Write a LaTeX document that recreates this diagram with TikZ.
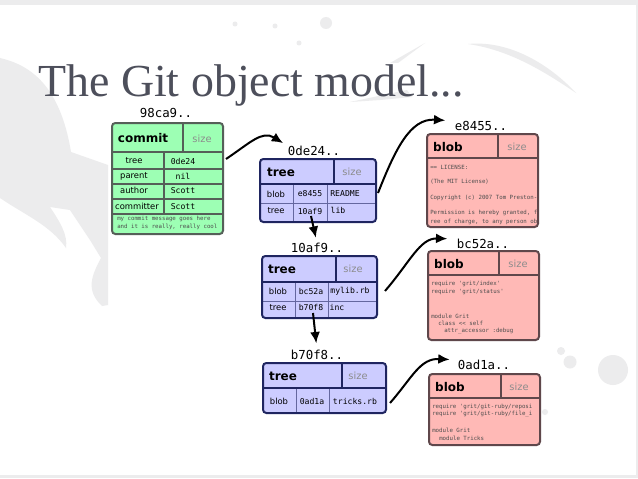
\documentclass[tikz,border=0pt]{standalone}
\usepackage{fontspec}
\setmainfont{Liberation Serif}
\setsansfont{DejaVu Sans}
\setmonofont{DejaVu Sans Mono}
\usetikzlibrary{arrows.meta, fit}
\definecolor{paintgray}{HTML}{ECECED}
\definecolor{titleink}{HTML}{4D4F5B}
\definecolor{commitfill}{HTML}{9DFFB4}
\definecolor{commitline}{HTML}{555F58}
\definecolor{treefill}{HTML}{CCCCFF}
\definecolor{treeline}{HTML}{1F2560}
\definecolor{blobfill}{HTML}{FFB9B6}
\definecolor{blobline}{HTML}{5F474B}

\begin{document}
\begin{tikzpicture}[
        x=0.75pt, y=-0.75pt,
        objbox/.style={rectangle, rounded corners=2.5pt, line width=1.5pt, inner sep=0pt},
        commitbox/.style={objbox, draw=commitline, fill=commitfill},
        treebox/.style={objbox, draw=treeline, fill=treefill},
        blobbox/.style={objbox, draw=blobline, fill=blobfill},
        heavy/.style={line width=1.3pt},
        thin rule/.style={line width=0.6pt, opacity=0.6},
        title/.style={font=\rmfamily\fontsize{34.4}{38}\selectfont, text=titleink, anchor=base west, inner sep=0pt},
        sha/.style={font=\ttfamily\fontsize{9.3}{10}\selectfont, inner sep=0pt},
        kind/.style={font=\sffamily\bfseries\fontsize{9}{10}\selectfont, inner sep=0pt},
        sizelabel/.style={font=\sffamily\fontsize{7.4}{9}\selectfont, text=black!45, inner sep=0pt},
        field/.style={font=\sffamily\fontsize{6.3}{8}\selectfont, inner sep=0pt},
        value/.style={font=\ttfamily\fontsize{6.1}{8}\selectfont, inner sep=0pt},
        contents/.style={font=\ttfamily\fontsize{4.3}{5}\selectfont, text=black!70, anchor=west, inner sep=0pt},
        pointer/.style={-{Latex[length=8.5pt, width=7.5pt]}, line width=1.5pt}
    ]
    \useasboundingbox (0,0) rectangle (638,478);

    % Painted slide background
    \fill[white] (0,0) rectangle (638,478);
    \fill[paintgray] (0,0) rectangle (638,5);
    \fill[paintgray] (0,475) rectangle (638,478);
    \fill[paintgray] (636,0) rectangle (638,478);
    \fill[paintgray] (0,58) .. controls (30,65) and (60,85) .. (71,152) -- (108,165) -- (108,305) -- (102,306)
        .. controls (85,290) and (92,275) .. (101,258) -- (90,240) -- (70,210) -- (50,207)
        .. controls (60,222) and (68,235) .. (66,248) .. controls (50,225) and (25,215) .. (0,198) -- cycle;
    \fill[paintgray] (468,44) .. controls (510,40) and (550,65) .. (576,93) .. controls (545,72) and (510,50) .. cycle;
    \fill[paintgray] (425,43) -- (390,63) -- (398,63) -- cycle;
    \fill[paintgray] (350,102) -- (407,90) -- (412,97) -- (380,100) -- cycle;
    \foreach \cx/\cy/\r in {326/23/6, 235/24/2.5, 275/26/2.5, 299/43/2.5, 613/370/15, 570/362/6.5, 561/351/4, 545/412/3} {
        \fill[paintgray] (\cx,\cy) circle (\r);
    }

    % Title
    \node[title] (slidetitle) at (38,96) {The Git object model...};

    % Object outlines
    \node[commitbox, fit={(112,123) (223,234)}] (commitobj) {};
    \foreach \name/\xa/\ya/\xb/\yb in {tree0/260/159/376/222, tree1/262/256/377/318, tree2/263/363/386/413} {
        \node[treebox, fit={(\xa,\ya) (\xb,\yb)}] (\name) {};
    }
    \foreach \name/\xa/\ya/\xb/\yb in {blob0/427/134/538/227, blob1/428/251/539/340, blob2/429/374/540/445} {
        \node[blobbox, fit={(\xa,\ya) (\xb,\yb)}] (\name) {};
    }

    % Dividers
    \draw[heavy, commitline] (112,152) -- (223,152) (183,123) -- (183,152);
    \draw[commitline, line width=0.9pt] (112,169) -- (223,169) (112,184) -- (223,184) (112,199) -- (223,199) (112,214) -- (223,214) (164,152) -- (164,214);
    \draw[heavy, treeline] (260,184) -- (376,184) (334,159) -- (334,184);
    \draw[heavy, treeline] (262,282) -- (377,282) (336,256) -- (336,282);
    \draw[heavy, treeline] (263,388) -- (386,388) (342,363) -- (342,388);
    \draw[thin rule, treeline] (260,203) -- (376,203) (293,184) -- (293,222) (327,184) -- (327,222);
    \draw[thin rule, treeline] (262,301) -- (377,301) (295,282) -- (295,318) (328,282) -- (328,318);
    \draw[thin rule, treeline] (296,388) -- (296,413) (329,388) -- (329,413);
    \draw[heavy, blobline] (427,158) -- (538,158) (498,134) -- (498,158);
    \draw[heavy, blobline] (428,275) -- (539,275) (499,251) -- (499,275);
    \draw[heavy, blobline] (429,398) -- (540,398) (501,374) -- (501,398);

    % Hash labels
    \foreach \name/\cx/\cy/\txt in {shacommit/166/113/98ca9.., shatree0/314/151/0de24.., shatree1/317/248/10af9.., shatree2/317/355/b70f8.., shablob0/481/126/e8455.., shablob1/483/244/bc52a.., shablob2/484/365/0ad1a..} {
        \node[sha] (\name) at (\cx,\cy) {\txt};
    }

    % Header cells
    \foreach \name/\cx/\cy/\txt in {kc/143/138/commit, kt0/281/172/tree, kt1/282/269/tree, kt2/283/376/tree, kb0/448/147/blob, kb1/449/264/blob, kb2/450/387/blob} {
        \node[kind] (\name) at (\cx,\cy) {\txt};
    }
    \foreach \name/\cx/\cy in {sc/202/139, st0/352/172, st1/353/269, st2/358/376, sb0/517/147, sb1/518/264, sb2/519/387} {
        \node[sizelabel] (\name) at (\cx,\cy) {size};
    }

    % Commit and tree rows
    \foreach \name/\cx/\cy/\txt in {f0/134/161/tree, f1/134/176/parent, f2/134/190/author, f3/137/206/committer, f4/276/194/blob, f5/276/211/tree, f6/278/291/blob, f7/278/308/tree, f8/279/401/blob} {
        \node[field] (\name) at (\cx,\cy) {\txt};
    }
    \foreach \name/\cx/\cy/\txt in {v0/183/161/0de24, v1/183/176/nil, v2/183/191/Scott, v3/183/207/Scott, v4/310/194/e8455, v5/345/194/README, v6/310/211/10af9, v7/338/210/lib, v8/311/291/bc52a, v9/350/291/mylib.rb, v10/311/307/b70f8, v11/337/307/inc, v12/312/401/0ad1a, v13/355/401/tricks.rb} {
        \node[value] (\name) at (\cx,\cy) {\txt};
    }

    % Commit message and blob contents
    \foreach \name/\cx/\cy/\txt in {
        m0/117/219/my commit message goes here,
        m1/117/227/{and it is really, really cool},
        c0/430/167/== LICENSE:,
        c1/430/182/(The MIT License),
        c2/430/198/Copyright (c) 2007 Tom Preston-,
        c3/430/213/{Permission is hereby granted, f},
        c4/430/222/{ree of charge, to any person ob},
        c5/431/284/{require 'grit/index'},
        c6/431/292/{require 'grit/status'},
        c7/431/316/module Grit,
        c8/438/323/class << self,
        c9/444/331/attr\_accessor :debug,
        c10/432/407/{require 'grit/git-ruby/reposi},
        c11/432/414/{require 'grit/git-ruby/file\_i},
        c12/432/430/module Grit,
        c13/439/438/module Tricks} {
        \node[contents] (\name) at (\cx,\cy) {\txt};
    }

    % Pointers
    \coordinate (fromcommit) at (226,159);
    \coordinate (fromt0a) at (378,193);
    \coordinate (fromt0b) at (311,216);
    \coordinate (fromt1a) at (385,291);
    \coordinate (fromt1b) at (313,313);
    \coordinate (fromt2) at (390,403);
    \draw[pointer, shorten >=4pt] (fromcommit) .. controls (250,143) and (262,130) .. (shatree0.north west);
    \draw[pointer, shorten >=4pt] (fromt0b) -- (shatree1.north);
    \draw[pointer, shorten >=5pt] (fromt1b) -- (shatree2.north);
    \draw[pointer, shorten >=7pt] (fromt0a) .. controls (395,150) and (410,118) .. (shablob0.north west);
    \draw[pointer, shorten >=7pt] (fromt1a) .. controls (410,262) and (420,238) .. (shablob1.north west);
    \draw[pointer, shorten >=6pt] (fromt2) .. controls (412,378) and (420,358) .. (shablob2.north west);
\end{tikzpicture}
\end{document}
